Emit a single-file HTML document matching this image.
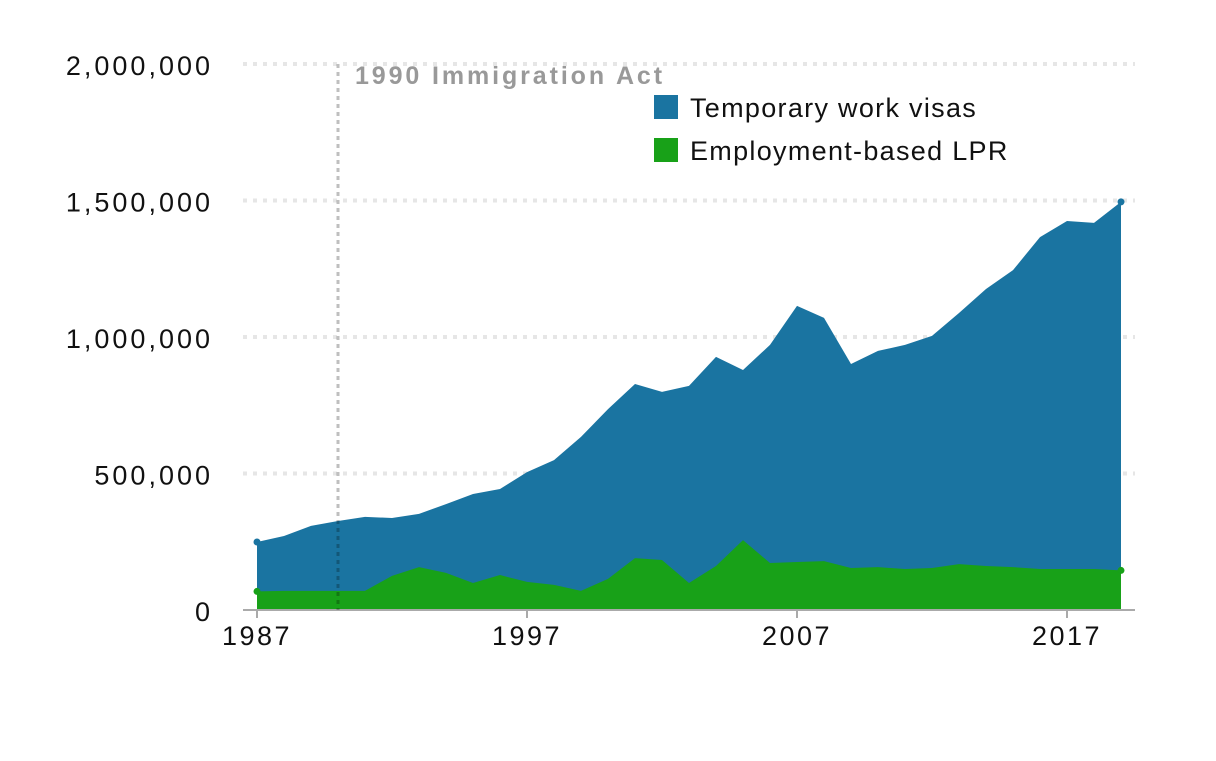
<!DOCTYPE html>
<html><head><meta charset="utf-8"><style>
body{margin:0;background:#fff;}
svg{display:block;font-family:"Liberation Sans",sans-serif;}
</style></head><body>
<svg id="chart" width="1216" height="761"></svg>
<script>
const years=[];for(let y=1987;y<=2019;y++)years.push(y);
const temporaryVisas=[249000,271000,308000,326000,341000,337000,352000,388000,425000,443000,505000,549000,634000,736000,828000,799000,821000,927000,879000,971000,1114000,1070000,901000,949000,971000,1004000,1088000,1176000,1245000,1366000,1425000,1418000,1495000];
const employmentLPR=[68000,70000,70000,70000,70000,125000,157000,136000,99000,128000,103000,92000,70000,114000,190000,183000,99000,161000,256000,172000,176000,179000,154000,157000,150000,154000,168000,161000,157000,150000,150000,150000,145000];
const yTicks=[0,500000,1000000,1500000,2000000];
const yTickLabels=["0","500,000","1,000,000","1,500,000","2,000,000"];
const xTicks=[1987,1997,2007,2017];

const NS="http://www.w3.org/2000/svg";
const svg=document.getElementById('chart');
const x=v=>257+(v-1987)*27;
const y=v=>610-v/2000000*546;
function mk(t,a,p){const e=document.createElementNS(NS,t);for(const k in a)e.setAttribute(k,a[k]);(p||svg).appendChild(e);return e;}

yTicks.forEach((t,i)=>{
  if(t>0){const g=mk('line',{x1:243,x2:1135,y1:y(t),y2:y(t),stroke:'#e6e6e6','stroke-width':4,'stroke-dasharray':'4 6'});
  
  }
  const l=mk('text',{x:213,y:y(t)+11,'text-anchor':'end','font-size':27,'letter-spacing':3,fill:'#111'});
  l.textContent=yTickLabels[i];
  
  
});

function area(vals,color,name){
  let d='M'+x(years[0])+','+y(0);
  vals.forEach((v,i)=>{d+=' L'+x(years[i])+','+y(v);});
  d+=' L'+x(years[years.length-1])+','+y(0)+' Z';
  const p=mk('path',{d:d,fill:color});
  
  
  [0,vals.length-1].forEach(i=>{const c=mk('circle',{cx:x(years[i]),cy:y(vals[i]),r:3.5,fill:color});
  
  });
}
area(temporaryVisas,'#1a74a1','temporary-work-visas-area');
area(employmentLPR,'#18a118','employment-lpr-area');

const ax=mk('line',{x1:243,x2:1135,y1:610,y2:610,stroke:'#aaa','stroke-width':2});


xTicks.forEach(t=>{
  const tk=mk('line',{x1:x(t),x2:x(t),y1:610,y2:618,stroke:'#aaa','stroke-width':2});
  
  
  const l=mk('text',{x:x(t),y:645,'text-anchor':'middle','font-size':27,'letter-spacing':2.5,fill:'#111'});
  l.textContent=t;
  
  
});

const vl=mk('line',{x1:338,x2:338,y1:64,y2:610,stroke:'rgba(0,0,0,0.25)','stroke-width':3,'stroke-dasharray':'4 4'});


const at=mk('text',{x:355,y:84,'font-size':25,'font-weight':'bold','letter-spacing':2.9,fill:'#999'});
at.textContent='1990 Immigration Act';



[['#1a74a1','Temporary work visas',95],['#18a118','Employment-based LPR',138]].forEach((e,i)=>{
  const g=mk('g',{});
  
  
  mk('rect',{x:654,y:e[2],width:24,height:24,fill:e[0]},g);
  const t=mk('text',{x:690,y:e[2]+22,'font-size':27,'letter-spacing':1.3,fill:'#111'},g);
  t.textContent=e[1];
});
</script>
</body></html>
